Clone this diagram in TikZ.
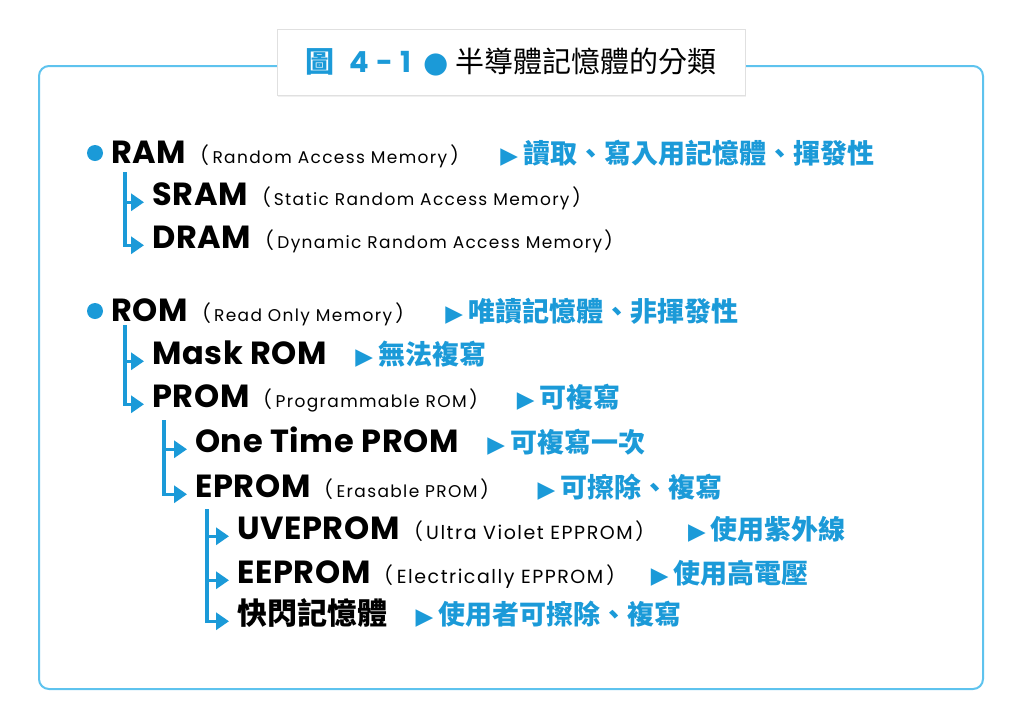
\documentclass[tikz,border=0pt]{standalone}
\usepackage{fontspec}
\setmainfont{Poppins}
\newfontfamily\cjk{Noto Sans CJK TC}
\newfontfamily\sym{DejaVu Sans}
\newfontfamily\lab{Poppins}[LetterSpace=2]
\newfontfamily\thin{Poppins}[LetterSpace=8]
\usetikzlibrary{positioning,arrows.meta,shadows}
\definecolor{accent}{HTML}{1B9AD8}
\definecolor{framec}{HTML}{5EC3EE}
\newcommand{\lp}{{\cjk\fontsize{22}{22}\selectfont （}\,}
\newcommand{\rp}{\,{\cjk\fontsize{22}{22}\selectfont ）}}
\newcommand{\tri}{{\sym\fontsize{23}{23}\selectfont ▶}\hspace{5pt}}
\tikzstyle{entry} = [anchor=base west, inner sep=0pt, font=\fontsize{32}{32}\selectfont\lab\bfseries]
\tikzstyle{fullname} = [inner sep=0pt, font=\fontsize{17}{17}\selectfont\thin]
\tikzstyle{bigname} = [fullname, font=\fontsize{19}{19}\selectfont\thin]
\tikzstyle{note} = [inner sep=0pt, text=accent, font=\fontsize{27}{27}\selectfont\cjk\bfseries]
\tikzstyle{dot} = [circle, fill=accent, inner sep=0pt, minimum size=16pt]
\tikzstyle{branch} = [draw=accent, line width=3.2pt, -{Triangle[length=13pt,width=17pt]}, shorten >=8pt]
\tikzstyle{frame} = [draw=framec, line width=2pt, rounded corners=10pt]
\tikzstyle{titlebox} = [rectangle, draw=black!12, fill=white, minimum width=468pt, minimum height=66pt, drop shadow={opacity=0.12, shadow xshift=1pt, shadow yshift=-1.5pt}]

\begin{document}
\begin{tikzpicture}[x=1pt, y=-1pt]
			\useasboundingbox (0,0) rectangle (1024,721);
			\draw [frame] (39,66) rectangle (983,689);
			\node (title) [titlebox] at (511,62) {\fontsize{29}{29}\selectfont
				{\color{accent}\cjk\bfseries 圖\hspace{15pt}\rmfamily\bfseries 4\hspace{7pt}-\hspace{7pt}1}\hspace{12pt}{\color{accent}\sym ●}\hspace{7pt}{\cjk 半導體記憶體的分類}};
			%-----------------------------------------------
			\node (ram) [entry] at (111,163) {RAM};
			\node (ramdot) [dot] at (95,153) {};
			\node (ramfull) [fullname, base right=1pt of ram] {\lp Random Access Memory\rp};
			\node (ramnote) [note, base right=28pt of ramfull] {\tri 讀取、寫入用記憶體、揮發性};
			\node (sram) [entry] at (152,205) {SRAM};
			\node (sramfull) [fullname, base right=1pt of sram] {\lp Static Random Access Memory\rp};
			\node (dram) [entry] at (152,248) {DRAM};
			\node (dramfull) [fullname, base right=1pt of dram] {\lp Dynamic Random Access Memory\rp};
			%-----------------------------------------------
			\node (rom) [entry] at (111,321) {ROM};
			\node (romdot) [dot] at (95,311) {};
			\node (romfull) [fullname, base right=1pt of rom] {\lp Read Only Memory\rp};
			\node (romnote) [note, base right=28pt of romfull] {\tri 唯讀記憶體、非揮發性};
			\node (mask) [entry] at (152,364) {Mask ROM};
			\node (masknote) [note, base right=28pt of mask] {\tri 無法複寫};
			\node (prom) [entry] at (152,407) {PROM};
			\node (promfull) [fullname, base right=1pt of prom] {\lp Programmable ROM\rp};
			\node (promnote) [note, base right=25pt of promfull] {\tri 可複寫};
			\node (otp) [entry] at (195,452) {One Time PROM};
			\node (otpnote) [note, base right=28pt of otp] {\tri 可複寫一次};
			\node (eprom) [entry] at (195,497) {EPROM};
			\node (epromfull) [fullname, base right=1pt of eprom] {\lp Erasable PROM\rp};
			\node (epromnote) [note, base right=35pt of epromfull] {\tri 可擦除、複寫};
			\node (uv) [entry] at (237,539) {UVEPROM};
			\node (uvfull) [bigname, base right=1pt of uv] {\lp Ultra Violet EPPROM\rp};
			\node (uvnote) [note, base right=30pt of uvfull] {\tri 使用紫外線};
			\node (ee) [entry] at (237,583) {EEPROM};
			\node (eefull) [bigname, base right=1pt of ee] {\lp Electrically EPPROM\rp};
			\node (eenote) [note, base right=22pt of eefull] {\tri 使用高電壓};
			\node (flash) [entry, font=\fontsize{30}{30}\selectfont\cjk\bfseries] at (237,624) {快閃記憶體};
			\node (flashnote) [note, base right=28pt of flash] {\tri 使用者可擦除、複寫};
			%-----------------------------------------------
			\draw [branch] ([xshift=14pt,yshift=-9pt]ram.base west) |- (sram.mid west);
			\draw [branch] ([xshift=14pt,yshift=-9pt]ram.base west) |- (dram.mid west);
			\draw [branch] ([xshift=14pt,yshift=-4pt]rom.base west) |- (mask.mid west);
			\draw [branch] ([xshift=14pt,yshift=-4pt]rom.base west) |- (prom.mid west);
			\draw [branch] ([xshift=12pt,yshift=-13pt]prom.base west) |- (otp.mid west);
			\draw [branch] ([xshift=12pt,yshift=-13pt]prom.base west) |- (eprom.mid west);
			\draw [branch] ([xshift=12pt,yshift=-12pt]eprom.base west) |- (uv.mid west);
			\draw [branch] ([xshift=12pt,yshift=-12pt]eprom.base west) |- (ee.mid west);
			\draw [branch] ([xshift=12pt,yshift=-12pt]eprom.base west) |- (flash.mid west);
			\end{tikzpicture}
\end{document}
